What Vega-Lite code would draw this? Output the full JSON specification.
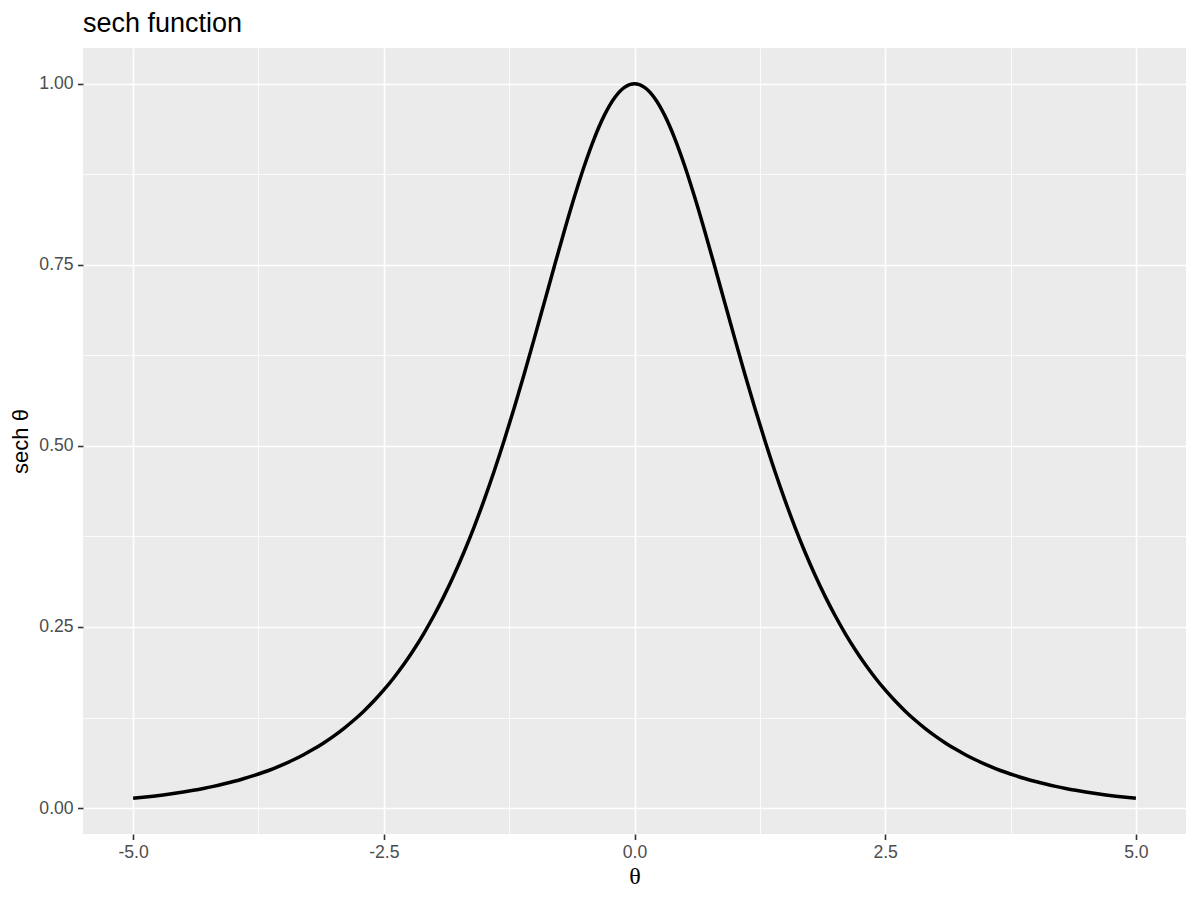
{
  "$schema": "https://vega.github.io/schema/vega-lite/v6.json",
  "autosize": {"type": "none"},
  "padding": {"left": 83, "top": 48, "right": 14, "bottom": 66},
  "width": 1103,
  "height": 786,
  "background": "white",
  "title": {
    "text": "sech function",
    "anchor": "start",
    "frame": "group",
    "font": "Liberation Sans",
    "fontSize": 27,
    "fontWeight": "normal",
    "color": "black",
    "baseline": "alphabetic",
    "offset": -11
  },
  "config": {
    "view": {"fill": "#EBEBEB", "stroke": null},
    "axis": {
      "domain": false,
      "gridColor": "white",
      "gridWidth": 1.6,
      "tickColor": "#333333",
      "tickWidth": 1.6,
      "tickSize": 5.5,
      "labelColor": "#4D4D4D",
      "labelFont": "Liberation Sans",
      "labelFontSize": 17.6,
      "labelPadding": 4.4,
      "titleFont": "Liberation Sans",
      "titleFontSize": 22,
      "titleFontWeight": "normal",
      "titleColor": "black"
    }
  },
  "data": {"values": [
    {"x": -5.0, "y": 0.013475}, {"x": -4.9, "y": 0.014894}, {"x": -4.8, "y": 0.016459}, {"x": -4.7, "y": 0.018189}, {"x": -4.6, "y": 0.020101},
    {"x": -4.5, "y": 0.022215}, {"x": -4.4, "y": 0.024559}, {"x": -4.3, "y": 0.027137}, {"x": -4.2, "y": 0.029986}, {"x": -4.1, "y": 0.033137},
    {"x": -4.0, "y": 0.036619}, {"x": -3.9, "y": 0.040467}, {"x": -3.8, "y": 0.044719}, {"x": -3.7, "y": 0.049417}, {"x": -3.6, "y": 0.054607},
    {"x": -3.5, "y": 0.060340}, {"x": -3.4, "y": 0.066672}, {"x": -3.3, "y": 0.073665}, {"x": -3.2, "y": 0.081389}, {"x": -3.1, "y": 0.089912},
    {"x": -3.0, "y": 0.099328}, {"x": -2.9, "y": 0.109714}, {"x": -2.8, "y": 0.121172}, {"x": -2.7, "y": 0.133806}, {"x": -2.6, "y": 0.147732},
    {"x": -2.5, "y": 0.163071}, {"x": -2.4, "y": 0.179954}, {"x": -2.3, "y": 0.198522}, {"x": -2.2, "y": 0.218919}, {"x": -2.1, "y": 0.241295},
    {"x": -2.0, "y": 0.265802}, {"x": -1.9, "y": 0.292594}, {"x": -1.8, "y": 0.321805}, {"x": -1.7, "y": 0.353568}, {"x": -1.6, "y": 0.387977},
    {"x": -1.5, "y": 0.425096}, {"x": -1.4, "y": 0.464922}, {"x": -1.3, "y": 0.507379}, {"x": -1.2, "y": 0.552286}, {"x": -1.1, "y": 0.599334},
    {"x": -1.0, "y": 0.648054}, {"x": -0.9, "y": 0.697795}, {"x": -0.8, "y": 0.747700}, {"x": -0.7, "y": 0.796705}, {"x": -0.6, "y": 0.843551},
    {"x": -0.5, "y": 0.886819}, {"x": -0.4, "y": 0.925007}, {"x": -0.3, "y": 0.956628}, {"x": -0.2, "y": 0.980328}, {"x": -0.1, "y": 0.995021},
    {"x": 0.0, "y": 1.0},
    {"x": 0.1, "y": 0.995021}, {"x": 0.2, "y": 0.980328}, {"x": 0.3, "y": 0.956628}, {"x": 0.4, "y": 0.925007}, {"x": 0.5, "y": 0.886819},
    {"x": 0.6, "y": 0.843551}, {"x": 0.7, "y": 0.796705}, {"x": 0.8, "y": 0.747700}, {"x": 0.9, "y": 0.697795}, {"x": 1.0, "y": 0.648054},
    {"x": 1.1, "y": 0.599334}, {"x": 1.2, "y": 0.552286}, {"x": 1.3, "y": 0.507379}, {"x": 1.4, "y": 0.464922}, {"x": 1.5, "y": 0.425096},
    {"x": 1.6, "y": 0.387977}, {"x": 1.7, "y": 0.353568}, {"x": 1.8, "y": 0.321805}, {"x": 1.9, "y": 0.292594}, {"x": 2.0, "y": 0.265802},
    {"x": 2.1, "y": 0.241295}, {"x": 2.2, "y": 0.218919}, {"x": 2.3, "y": 0.198522}, {"x": 2.4, "y": 0.179954}, {"x": 2.5, "y": 0.163071},
    {"x": 2.6, "y": 0.147732}, {"x": 2.7, "y": 0.133806}, {"x": 2.8, "y": 0.121172}, {"x": 2.9, "y": 0.109714}, {"x": 3.0, "y": 0.099328},
    {"x": 3.1, "y": 0.089912}, {"x": 3.2, "y": 0.081389}, {"x": 3.3, "y": 0.073665}, {"x": 3.4, "y": 0.066672}, {"x": 3.5, "y": 0.060340},
    {"x": 3.6, "y": 0.054607}, {"x": 3.7, "y": 0.049417}, {"x": 3.8, "y": 0.044719}, {"x": 3.9, "y": 0.040467}, {"x": 4.0, "y": 0.036619},
    {"x": 4.1, "y": 0.033137}, {"x": 4.2, "y": 0.029986}, {"x": 4.3, "y": 0.027137}, {"x": 4.4, "y": 0.024559}, {"x": 4.5, "y": 0.022215},
    {"x": 4.6, "y": 0.020101}, {"x": 4.7, "y": 0.018189}, {"x": 4.8, "y": 0.016459}, {"x": 4.9, "y": 0.014894}, {"x": 5.0, "y": 0.013475}
  ]},
  "layer": [
    {
      "mark": {"type": "line", "opacity": 0},
      "encoding": {
        "x": {"field": "x", "type": "quantitative", "scale": {"domain": [-5.5, 5.5], "nice": false, "zero": false},
              "axis": {"orient": "top", "values": [-3.75, -1.25, 1.25, 3.75], "grid": true, "gridWidth": 0.8, "labels": false, "ticks": false, "title": null}},
        "y": {"field": "y", "type": "quantitative", "scale": {"domain": [-0.0358, 1.0493], "nice": false, "zero": false},
              "axis": {"orient": "right", "values": [0.125, 0.375, 0.625, 0.875], "grid": true, "gridWidth": 0.8, "labels": false, "ticks": false, "title": null}}
      }
    },
    {
      "mark": {"type": "line", "color": "black", "strokeWidth": 3.5, "interpolate": "monotone"},
      "encoding": {
        "x": {"field": "x", "type": "quantitative", "scale": {"domain": [-5.5, 5.5], "nice": false, "zero": false},
              "axis": {"orient": "bottom", "values": [-5, -2.5, 0, 2.5, 5], "labelExpr": "datum.value < 0 ? '-' + format(-datum.value, '.1f') : format(datum.value, '.1f')", "grid": true, "title": "θ", "titleFont": "Liberation Serif", "titleFontSize": 24, "titlePadding": 3}},
        "y": {"field": "y", "type": "quantitative", "scale": {"domain": [-0.0358, 1.0493], "nice": false, "zero": false},
              "axis": {"orient": "left", "values": [0, 0.25, 0.5, 0.75, 1], "format": ".2f", "grid": true, "title": "sech θ", "titlePadding": 6}}
      }
    }
  ],
  "resolve": {"axis": {"x": "independent", "y": "independent"}}
}
